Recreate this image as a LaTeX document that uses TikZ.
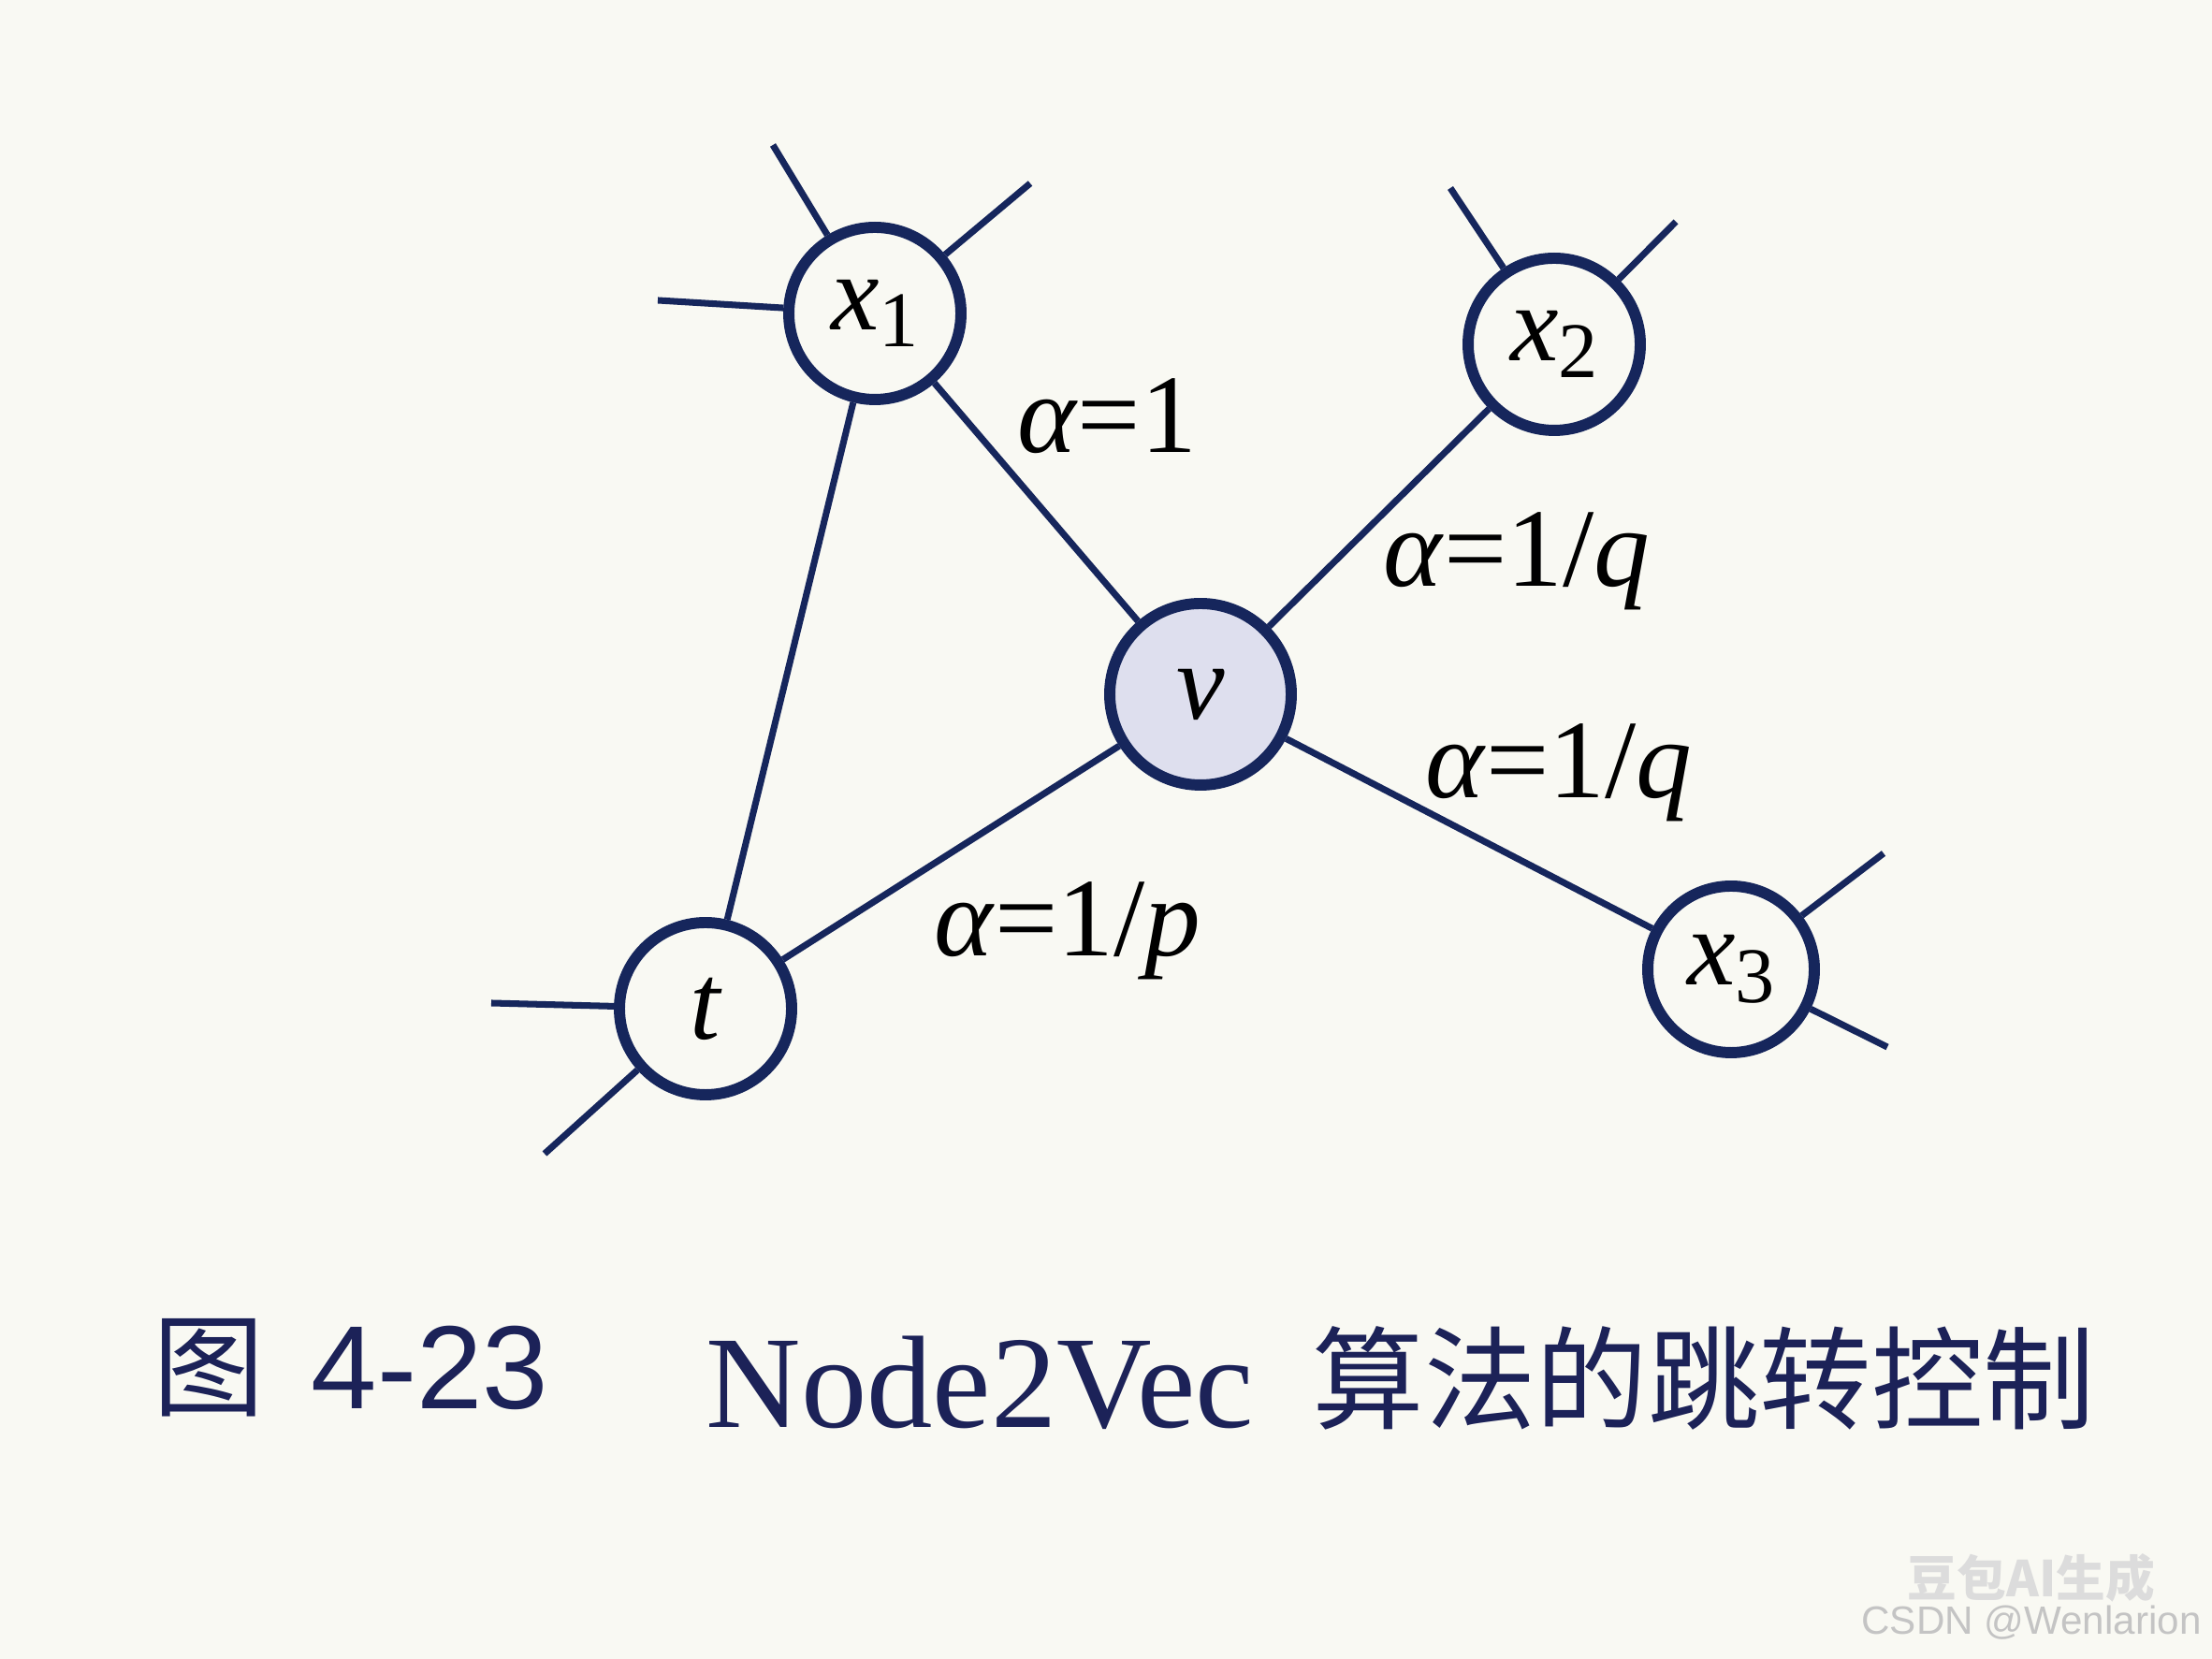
\documentclass[tikz,border=0pt]{standalone}
\usepackage{fontspec}
\setmainfont{Liberation Serif}
\newfontfamily\cjk{Noto Sans CJK SC}
\newfontfamily\wmfont{Liberation Sans}
\usepackage{tikz}
\usetikzlibrary{positioning}
\definecolor{papercolor}{RGB}{249, 249, 243}
\definecolor{edgecolor}{RGB}{22, 38, 92}
\definecolor{vfillcolor}{RGB}{222, 223, 238}
\definecolor{captioncolor}{RGB}{28, 34, 88}
\definecolor{markcolor}{RGB}{196, 196, 196}
\newcommand\lowidx[1]{\raisebox{-0.35ex}{\fontsize{24}{26}\selectfont\upshape #1}}
\tikzset{
vertex/.style={
  circle,
  draw=edgecolor,
  line width=3.4pt,
  minimum size=18.4mm,
  inner sep=0pt,
  font=\itshape\fontsize{33}{38}\selectfont
},
link/.style={
  draw=edgecolor,
  line width=2pt
},
weight/.style={
  font=\fontsize{34}{40}\selectfont,
  text=black
},
figcaption/.style={
  font=\fontsize{34}{40}\selectfont,
  text=captioncolor,
  inner sep=0pt
},
watermark/.style={
  font=\wmfont\fontsize{12}{14}\selectfont,
  text=markcolor,
  inner sep=0pt
}
}

\begin{document}
\begin{tikzpicture}
  % page
  \fill[papercolor] (0,0) rectangle (23.64,17.73);
  \useasboundingbox (0,0) rectangle (23.64,17.73);

  % Vertices
  \node[vertex] (x1) at (9.35,14.38) {x\lowidx{1}};
  \node[vertex] (x2) at (16.61,14.05) {x\lowidx{2}};
  \node[vertex, fill=vfillcolor, minimum size=19.4mm] (v) at (12.83,10.31) {v};
  \node[vertex] (t) at (7.54,6.95) {t};
  \node[vertex, minimum size=17.8mm] (x3) at (18.50,7.37) {x\lowidx{3}};

  % Free ends of the outer edges
  \coordinate (x1a) at (8.26,16.18);
  \coordinate (x1b) at (11.01,15.77);
  \coordinate (x1c) at (7.03,14.52);
  \coordinate (x2a) at (15.50,15.72);
  \coordinate (x2b) at (17.91,15.36);
  \coordinate (ta) at (5.25,7.01);
  \coordinate (tb) at (5.82,5.40);
  \coordinate (x3a) at (20.13,8.61);
  \coordinate (x3b) at (20.17,6.54);

  % Edges
  \draw[link] (x1) -- (v);
  \draw[link] (x2) -- (v);
  \draw[link] (v) -- (x3);
  \draw[link] (v) -- (t);
  \draw[link] (x1) -- (t);
  \foreach \a/\b in {x1/x1a, x1/x1b, x1/x1c, x2/x2a, x2/x2b, t/ta, t/tb, x3/x3a, x3/x3b}
    \draw[link] (\a) -- (\b);

  % Weights
  \node[weight] (w1) at (11.83,13.28) {\textit{α}=1};
  \node[weight] (wq1) at (16.21,11.73) {\textit{α}=1/\textit{q}};
  \node[weight] (wq2) at (16.66,9.47) {\textit{α}=1/\textit{q}};
  \node[weight] (wp) at (11.41,7.78) {\textit{α}=1/\textit{p}};

  % Caption
  \node[figcaption, anchor=west] (fig) at (1.63,3.11) {\cjk 图};
  \node[figcaption, anchor=west, font=\wmfont\fontsize{36}{40}\selectfont] (num) at (3.32,3.11) {4-23};
  \node[figcaption, anchor=west, font=\fontsize{40}{44}\selectfont] (title) at (7.54,2.95) {Node2Vec};
  \node[figcaption, anchor=west] (cn) at (14.02,3.00) {\cjk 算法的跳转控制};

  % Watermark
  \node[watermark, font=\cjk\bfseries\fontsize{15}{18}\selectfont, text=markcolor!60] (mark1) at (21.71,0.87) {豆包AI生成};
  \node[watermark] (mark2) at (21.71,0.39) {CSDN @Wenlarion};
\end{tikzpicture}
\end{document}
